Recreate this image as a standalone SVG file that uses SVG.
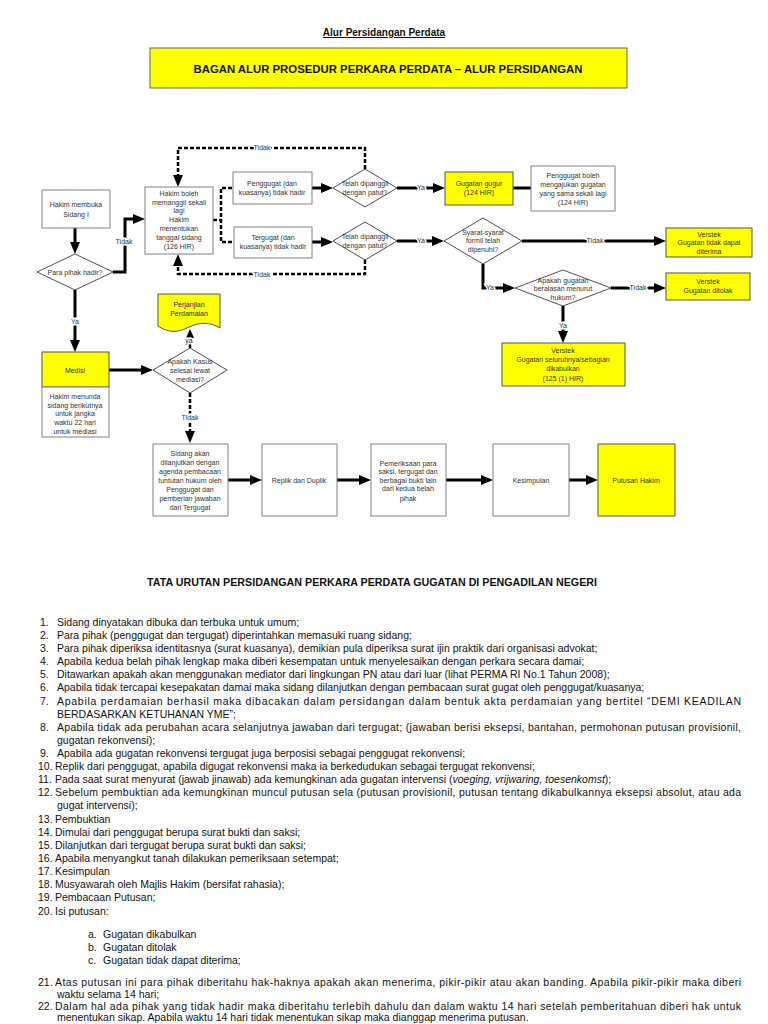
<svg xmlns="http://www.w3.org/2000/svg" width="768" height="1024" viewBox="0 0 768 1024">
<style>
.bg{fill:#fff}
.box{fill:#fff;stroke:#808080;stroke-width:1}
.ybox{fill:#ffff00;stroke:#555;stroke-width:1}
.dia{fill:#fff;stroke:#222;stroke-width:0.8}
.t{font-family:'Liberation Sans',Arial,sans-serif;font-size:7px;fill:#333;text-anchor:middle}
.lbl{font-family:'Liberation Sans',Arial,sans-serif;font-size:7px;fill:#333;text-anchor:middle;paint-order:stroke;stroke:#fff;stroke-width:3px}
.thick{stroke:#000;stroke-width:3;fill:none}
.dash{stroke:#000;stroke-width:2.5;fill:none;stroke-dasharray:4 2}
.li{font-family:'Liberation Sans',Arial,sans-serif;font-size:10.5px;fill:#111}
.h{font-family:'Liberation Sans',Arial,sans-serif;font-weight:bold;fill:#111}
</style>
<defs>
<marker id="ah" markerUnits="userSpaceOnUse" markerWidth="12" markerHeight="10" refX="6" refY="5" orient="auto"><path d="M0,0 L12,5 L0,10 Z" fill="#000"/></marker>
<marker id="ahs" markerUnits="userSpaceOnUse" markerWidth="9" markerHeight="8" refX="4" refY="4" orient="auto"><path d="M0,0 L9,4 L0,8 Z" fill="#000"/></marker>
</defs>
<rect class="bg" x="0" y="0" width="768" height="1024"/>

<g id="title">
<text class="h" x="384" y="36" font-size="10" text-anchor="middle" text-decoration="underline">Alur Persidangan Perdata</text>
</g>
<g id="banner">
<rect x="150" y="48" width="477" height="40" fill="#ffff00" stroke="#666" stroke-width="1"/>
<text class="h" x="388" y="73" font-size="11" text-anchor="middle" textLength="389" lengthAdjust="spacingAndGlyphs">BAGAN ALUR PROSEDUR PERKARA PERDATA – ALUR PERSIDANGAN</text>
</g>

<g id="connectors">
<path class="thick" d="M75,228 V248" marker-end="url(#ah)"/>
<path class="thick" d="M113,272 H125 V219 H139" marker-end="url(#ah)"/>
<path class="dash" d="M213,220 H221 M232,188 H221 V242 H234"/>
<path class="thick" d="M312,188 H327" marker-end="url(#ah)"/>
<path class="thick" d="M312,242 H327" marker-end="url(#ah)"/>
<path class="dash" d="M365,169 V148 H178 V181" marker-end="url(#ah)"/>
<path class="dash" d="M365,260 V274 H178 V260" marker-end="url(#ah)"/>
<path class="thick" d="M397,188 H439" marker-end="url(#ah)"/>
<path class="thick" d="M513,188 H531"/>
<path class="thick" d="M397,241 H438" marker-end="url(#ah)"/>
<path class="thick" d="M522,241 H660" marker-end="url(#ah)"/>
<path class="thick" d="M483,264 V288 H509" marker-end="url(#ah)"/>
<path class="thick" d="M611,288 H660" marker-end="url(#ah)"/>
<path class="thick" d="M563,306 V337" marker-end="url(#ah)"/>
<path class="thick" d="M75,290 V346" marker-end="url(#ah)"/>
<path class="thick" d="M109,370 H147" marker-end="url(#ah)"/>
<path class="dash" d="M190,348 V334" marker-end="url(#ahs)"/>
<path class="dash" d="M190,393 V437" marker-end="url(#ah)"/>
<path class="thick" d="M228,480 H256" marker-end="url(#ah)"/>
<path class="thick" d="M337,480 H365" marker-end="url(#ah)"/>
<path class="thick" d="M446,480 H487" marker-end="url(#ah)"/>
<path class="thick" d="M569,480 H592" marker-end="url(#ah)"/>
<text class="lbl" x="124" y="244">Tidak</text>
<text class="lbl" x="262" y="150">Tidak</text>
<text class="lbl" x="262" y="277">Tidak</text>
<text class="lbl" x="421" y="190">Ya</text>
<text class="lbl" x="421" y="243">Ya</text>
<text class="lbl" x="595" y="243">Tidak</text>
<text class="lbl" x="490" y="290">Ya</text>
<text class="lbl" x="638" y="290">Tidak</text>
<text class="lbl" x="563" y="328">Ya</text>
<text class="lbl" x="75" y="324">Ya</text>
<text class="lbl" x="189" y="343">ya</text>
<text class="lbl" x="190" y="420">Tidak</text>
</g>

<g id="n-hakim-membuka">
<rect class="box" x="42" y="190" width="68" height="38"/>
<text class="t" x="76" y="207">Hakim membuka</text>
<text class="t" x="76" y="217">Sidang I</text>
</g>
<g id="n-para-pihak">
<polygon class="dia" points="75,254 113,272 75,290 37,272"/>
<text class="t" x="75" y="275">Para pihak hadir?</text>
</g>
<g id="n-hakim-boleh">
<rect class="box" x="145" y="187" width="68" height="67"/>
<text class="t" x="179" y="196">Hakim boleh</text>
<text class="t" x="179" y="205">memanggil sekali</text>
<text class="t" x="179" y="213">lagi</text>
<text class="t" x="179" y="222">Hakim</text>
<text class="t" x="179" y="231">menentukan</text>
<text class="t" x="179" y="240">tanggal sidang</text>
<text class="t" x="179" y="249">(126 HIR)</text>
</g>
<g id="n-penggugat">
<rect class="box" x="233" y="172" width="79" height="32"/>
<text class="t" x="272" y="186">Penggugat (dan</text>
<text class="t" x="272" y="195">kuasanya) tidak hadir</text>
</g>
<g id="n-tergugat">
<rect class="box" x="234" y="227" width="78" height="31"/>
<text class="t" x="273" y="240">Tergugat (dan</text>
<text class="t" x="273" y="249">kuasanya) tidak hadir</text>
</g>
<g id="n-dipanggil1">
<polygon class="dia" points="365,169 397,188 365,207 333,188"/>
<text class="t" x="365" y="186">Telah dipanggil</text>
<text class="t" x="365" y="195">dengan patut?</text>
</g>
<g id="n-dipanggil2">
<polygon class="dia" points="365,222 397,241 365,260 333,241"/>
<text class="t" x="365" y="239">Telah dipanggil</text>
<text class="t" x="365" y="248">dengan patut?</text>
</g>
<g id="n-gugur">
<rect class="ybox" x="445" y="172" width="68" height="33"/>
<text class="t" x="479" y="186">Gugatan gugur</text>
<text class="t" x="479" y="195">(124 HIR)</text>
</g>
<g id="n-penggugat-boleh">
<rect class="box" x="531" y="166" width="84" height="45"/>
<text class="t" x="573" y="178">Penggugat boleh</text>
<text class="t" x="573" y="187">mengajukan gugatan</text>
<text class="t" x="573" y="196">yang sama sekali lagi</text>
<text class="t" x="573" y="205">(124 HIR)</text>
</g>
<g id="n-syarat">
<polygon class="dia" points="483,218 522,241 483,264 444,241"/>
<text class="t" x="483" y="235">Syarat-syarat</text>
<text class="t" x="483" y="243">formil telah</text>
<text class="t" x="483" y="252">dipenuhi?</text>
</g>
<g id="n-verstek1">
<rect class="ybox" x="666" y="228" width="86" height="29"/>
<text class="t" x="709" y="237">Verstek</text>
<text class="t" x="709" y="245">Gugatan tidak dapat</text>
<text class="t" x="709" y="254">diterima</text>
</g>
<g id="n-beralasan">
<polygon class="dia" points="563,270 611,288 563,306 515,288"/>
<text class="t" x="563" y="283">Apakah gugatan</text>
<text class="t" x="563" y="291">beralasan menurut</text>
<text class="t" x="563" y="300">hukum?</text>
</g>
<g id="n-verstek2">
<rect class="ybox" x="666" y="273" width="84" height="27"/>
<text class="t" x="708" y="284">Verstek</text>
<text class="t" x="708" y="293">Gugatan ditolak</text>
</g>
<g id="n-verstek3">
<rect class="ybox" x="502" y="343" width="123" height="43"/>
<text class="t" x="563" y="353">Verstek</text>
<text class="t" x="563" y="362">Gugatan seluruhnya/sebagian</text>
<text class="t" x="563" y="371">dikabulkan</text>
<text class="t" x="563" y="381">(125 (1) HIR)</text>
</g>
<g id="n-medisi">
<rect class="ybox" x="42" y="352" width="67" height="35"/>
<text class="t" x="75" y="373">Medisi</text>
<rect class="box" x="42" y="387" width="67" height="50"/>
<text class="t" x="75" y="399">Hakim menunda</text>
<text class="t" x="75" y="408">sidang berikutnya</text>
<text class="t" x="75" y="416">untuk jangka</text>
<text class="t" x="75" y="425">waktu 22 hari</text>
<text class="t" x="75" y="434">untuk mediasi</text>
</g>
<g id="n-kasus">
<polygon class="dia" points="190,348 227,370 190,393 153,370"/>
<text class="t" x="190" y="364">Apakah Kasus</text>
<text class="t" x="190" y="373">selesai lewat</text>
<text class="t" x="190" y="382">mediasi?</text>
</g>
<g id="n-perjanjian">
<path d="M158,294 H220 V328 C210,322 200,322 189,327 C178,333 168,333 158,326 Z" fill="#ffff00" stroke="#555" stroke-width="1"/>
<text class="t" x="189" y="307" style="fill:#1a237e">Perjanjian</text>
<text class="t" x="189" y="316" style="fill:#1a237e">Perdamaian</text>
</g>
<g id="n-sidang-akan">
<rect class="box" x="153" y="444" width="75" height="72"/>
<text class="t" x="190" y="456">Sidang akan</text>
<text class="t" x="190" y="465">dilanjutkan dengan</text>
<text class="t" x="190" y="474">agenda pembacaan</text>
<text class="t" x="190" y="483">tuntutan hukum oleh</text>
<text class="t" x="190" y="492">Penggugat dan</text>
<text class="t" x="190" y="501">pemberian jawaban</text>
<text class="t" x="190" y="510">dari Tergugat</text>
</g>
<g id="n-replik">
<rect class="box" x="262" y="444" width="75" height="72"/>
<text class="t" x="299" y="483">Replik dan Duplik</text>
</g>
<g id="n-pemeriksaan">
<rect class="box" x="371" y="444" width="75" height="72"/>
<text class="t" x="408" y="466">Pemeriksaan para</text>
<text class="t" x="408" y="474">saksi, tergugat dan</text>
<text class="t" x="408" y="483">berbagai bukti lain</text>
<text class="t" x="408" y="491">dari kedua belah</text>
<text class="t" x="408" y="501">pihak</text>
</g>
<g id="n-kesimpulan">
<rect class="box" x="493" y="444" width="76" height="72"/>
<text class="t" x="531" y="483">Kesimpulan</text>
</g>
<g id="n-putusan">
<rect class="ybox" x="598" y="444" width="77" height="72"/>
<text class="t" x="636" y="483">Putusan Hakim</text>
</g>

<g id="list">
<text class="h" x="147" y="586" font-size="10" textLength="450" lengthAdjust="spacingAndGlyphs">TATA URUTAN PERSIDANGAN PERKARA PERDATA GUGATAN DI PENGADILAN NEGERI</text>
<text class="li" x="40" y="626">1.</text><text class="li" x="57" y="626">Sidang dinyatakan dibuka dan terbuka untuk umum;</text>
<text class="li" x="40" y="639">2.</text><text class="li" x="57" y="639">Para pihak (penggugat dan tergugat) diperintahkan memasuki ruang sidang;</text>
<text class="li" x="40" y="652">3.</text><text class="li" x="57" y="652">Para pihak diperiksa identitasnya (surat kuasanya), demikian pula diperiksa surat ijin praktik dari organisasi advokat;</text>
<text class="li" x="40" y="665">4.</text><text class="li" x="57" y="665">Apabila kedua belah pihak lengkap maka diberi kesempatan untuk menyelesaikan dengan perkara secara damai;</text>
<text class="li" x="40" y="678">5.</text><text class="li" x="57" y="678">Ditawarkan apakah akan menggunakan mediator dari lingkungan PN atau dari luar (lihat PERMA RI No.1 Tahun 2008);</text>
<text class="li" x="40" y="691">6.</text><text class="li" x="57" y="691">Apabila tidak tercapai kesepakatan damai maka sidang dilanjutkan dengan pembacaan surat gugat oleh penggugat/kuasanya;</text>
<text class="li" x="40" y="705">7.</text><text class="li" x="57" y="705" textLength="684" lengthAdjust="spacing">Apabila perdamaian berhasil maka dibacakan dalam persidangan dalam bentuk akta perdamaian yang bertitel “DEMI KEADILAN</text>
<text class="li" x="57" y="718">BERDASARKAN KETUHANAN YME”;</text>
<text class="li" x="40" y="731">8.</text><text class="li" x="57" y="731" textLength="684" lengthAdjust="spacing">Apabila tidak ada perubahan acara selanjutnya jawaban dari tergugat; (jawaban berisi eksepsi, bantahan, permohonan putusan provisionil,</text>
<text class="li" x="57" y="744">gugatan rekonvensi);</text>
<text class="li" x="40" y="757">9.</text><text class="li" x="57" y="757">Apabila ada gugatan rekonvensi tergugat juga berposisi sebagai penggugat rekonvensi;</text>
<text class="li" x="38" y="770">10.</text><text class="li" x="55" y="770">Replik dari penggugat, apabila digugat rekonvensi maka ia berkedudukan sebagai tergugat rekonvensi;</text>
<text class="li" x="38" y="783">11.</text><text class="li" x="55" y="783">Pada saat surat menyurat (jawab jinawab) ada kemungkinan ada gugatan intervensi (<tspan font-style="italic">voeging, vrijwaring, toesenkomst</tspan>);</text>
<text class="li" x="38" y="796">12.</text><text class="li" x="55" y="796" textLength="686" lengthAdjust="spacing">Sebelum pembuktian ada kemungkinan muncul putusan sela (putusan provisionil, putusan tentang dikabulkannya eksepsi absolut, atau ada</text>
<text class="li" x="57" y="809">gugat intervensi);</text>
<text class="li" x="38" y="823">13.</text><text class="li" x="55" y="823">Pembuktian</text>
<text class="li" x="38" y="836">14.</text><text class="li" x="55" y="836">Dimulai dari penggugat berupa surat bukti dan saksi;</text>
<text class="li" x="38" y="849">15.</text><text class="li" x="55" y="849">Dilanjutkan dari tergugat berupa surat bukti dan saksi;</text>
<text class="li" x="38" y="862">16.</text><text class="li" x="55" y="862">Apabila menyangkut tanah dilakukan pemeriksaan setempat;</text>
<text class="li" x="38" y="875">17.</text><text class="li" x="55" y="875">Kesimpulan</text>
<text class="li" x="38" y="888">18.</text><text class="li" x="55" y="888">Musyawarah oleh Majlis Hakim (bersifat rahasia);</text>
<text class="li" x="38" y="901">19.</text><text class="li" x="55" y="901">Pembacaan Putusan;</text>
<text class="li" x="38" y="915">20.</text><text class="li" x="55" y="915">Isi putusan:</text>
<text class="li" x="88" y="938">a.</text><text class="li" x="103" y="938">Gugatan dikabulkan</text>
<text class="li" x="88" y="951">b.</text><text class="li" x="103" y="951">Gugatan ditolak</text>
<text class="li" x="88" y="964">c.</text><text class="li" x="103" y="964">Gugatan tidak dapat diterima;</text>
<text class="li" x="38" y="986">21.</text><text class="li" x="55" y="986" textLength="686" lengthAdjust="spacing">Atas putusan ini para pihak diberitahu hak-haknya apakah akan menerima, pikir-pikir atau akan banding. Apabila pikir-pikir maka diberi</text>
<text class="li" x="57" y="998">waktu selama 14 hari;</text>
<text class="li" x="38" y="1010">22.</text><text class="li" x="55" y="1010" textLength="686" lengthAdjust="spacing">Dalam hal ada pihak yang tidak hadir maka diberitahu terlebih dahulu dan dalam waktu 14 hari setelah pemberitahuan diberi hak untuk</text>
<text class="li" x="57" y="1021">menentukan sikap. Apabila waktu 14 hari tidak menentukan sikap maka dianggap menerima putusan.</text>
</g>
</svg>
